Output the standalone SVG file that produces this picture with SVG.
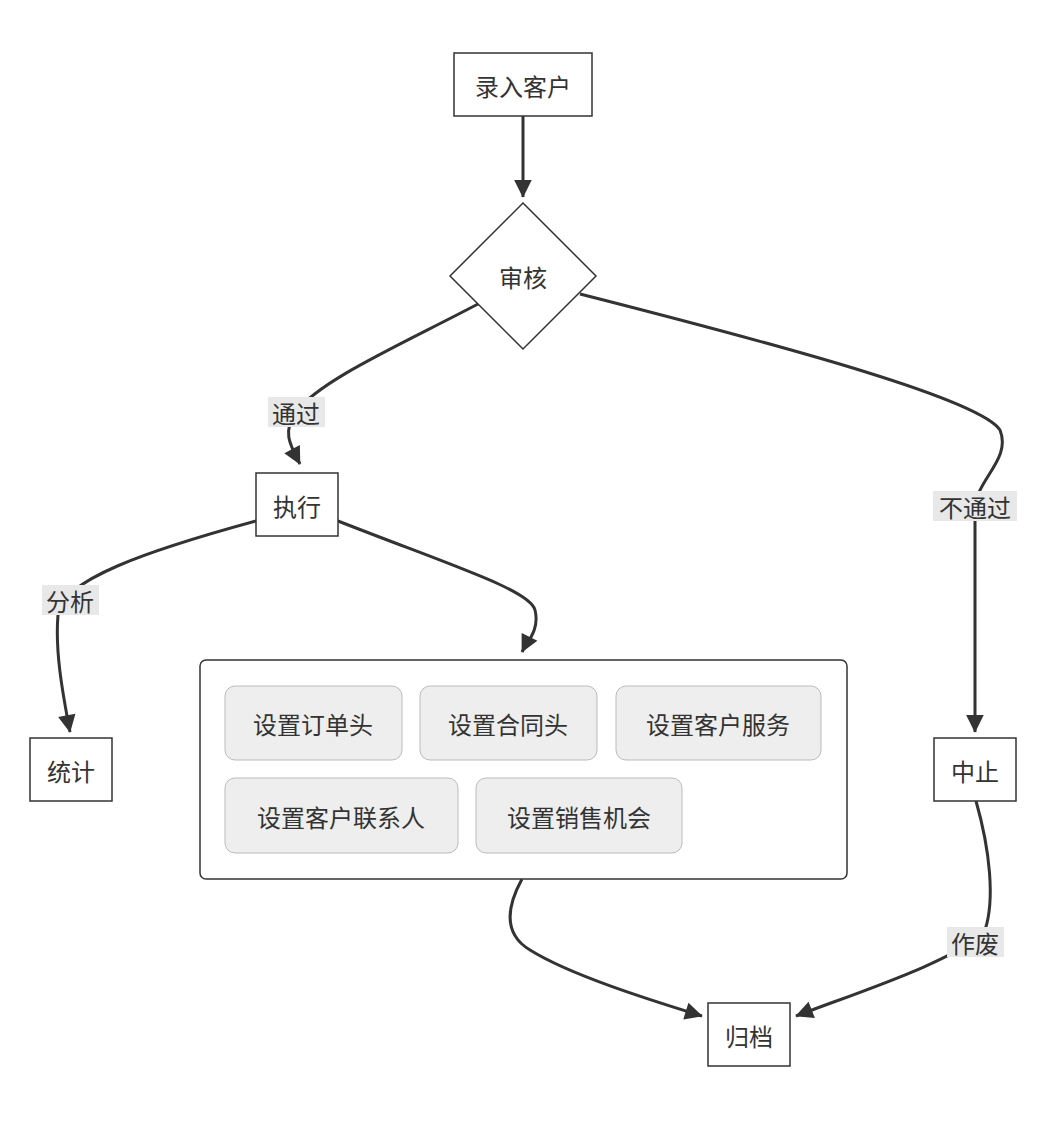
<svg xmlns="http://www.w3.org/2000/svg" width="1046" height="1122" viewBox="0 0 1046 1122">
<style>
.n{fill:#fff;stroke:#333;stroke-width:1.5}
.p{fill:#eee;stroke:#bbb;stroke-width:1}
.t{font-family:"Noto Sans CJK SC","Liberation Sans",sans-serif;font-size:24px;fill:#333;text-anchor:middle;dominant-baseline:central}
.e{fill:none;stroke:#333;stroke-width:3}
.lb{fill:#e8e8e8}
</style>
<defs><marker id="a" viewBox="0 0 10 10" refX="9" refY="5" markerWidth="8" markerHeight="8" markerUnits="userSpaceOnUse" orient="auto" style="overflow:visible"><path d="M0,0 L10,5 L0,10 z" fill="#333" transform="scale(2.2) translate(-5.5,-2.7)"/></marker></defs>
<rect width="1046" height="1122" fill="#fff"/>
<g id="connectors">
<path class="e" d="M523,116 L523,197" marker-end="url(#a)"/>
<path class="e" d="M478,304 C400,345 320,380 296,412 C282,432 290,445 300,464" marker-end="url(#a)"/>
<path class="e" d="M580,294 C800,350 980,400 1000,430 C1012,460 975,480 975,510 L975,732" marker-end="url(#a)"/>
<path class="e" d="M256,521 C150,550 60,580 58,615 C55,650 62,690 70,732" marker-end="url(#a)"/>
<path class="e" d="M338,521 C450,565 530,590 535,610 C540,630 527,642 522,652" marker-end="url(#a)"/>
<path class="e" d="M522,879 C505,910 505,935 530,950 C570,975 650,1000 702,1016" marker-end="url(#a)"/>
<path class="e" d="M976,801 C990,850 995,900 985,930 C960,960 850,995 796,1016" marker-end="url(#a)"/>
</g>
<g id="labels">
<rect class="lb" x="268" y="397" width="57" height="30"/><text class="t" x="296" y="412">通过</text>
<rect class="lb" x="933" y="491" width="84" height="30"/><text class="t" x="975" y="506">不通过</text>
<rect class="lb" x="42" y="585" width="57" height="30"/><text class="t" x="70" y="600">分析</text>
<rect class="lb" x="947" y="927" width="57" height="30"/><text class="t" x="975" y="942">作废</text>
</g>
<g id="n1"><rect class="n" x="454" y="53" width="138" height="63"/><text class="t" x="523" y="85">录入客户</text></g>
<g id="n2"><path class="n" d="M523,203 L596,276 L523,349 L450,276 Z"/><text class="t" x="523" y="276">审核</text></g>
<g id="n3"><rect class="n" x="256" y="473" width="82" height="63"/><text class="t" x="297" y="505">执行</text></g>
<g id="n4"><rect class="n" x="30" y="738" width="82" height="63"/><text class="t" x="71" y="770">统计</text></g>
<g id="n5"><rect class="n" x="934" y="738" width="82" height="63"/><text class="t" x="975" y="770">中止</text></g>
<g id="n6"><rect class="n" x="708" y="1003" width="82" height="63"/><text class="t" x="749" y="1035">归档</text></g>
<g id="group"><rect class="n" x="200" y="660" width="647" height="219" rx="6"/>
<rect class="p" x="225" y="686" width="177" height="74" rx="10"/><text class="t" x="313" y="723">设置订单头</text>
<rect class="p" x="420" y="686" width="177" height="74" rx="10"/><text class="t" x="508" y="723">设置合同头</text>
<rect class="p" x="616" y="686" width="205" height="74" rx="10"/><text class="t" x="718" y="723">设置客户服务</text>
<rect class="p" x="225" y="778" width="233" height="75" rx="10"/><text class="t" x="341" y="816">设置客户联系人</text>
<rect class="p" x="476" y="778" width="206" height="75" rx="10"/><text class="t" x="579" y="816">设置销售机会</text>
</g>
</svg>
